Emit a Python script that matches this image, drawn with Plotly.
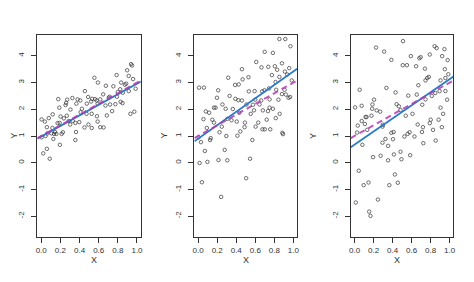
import plotly.graph_objects as go

# ---- data ----
x1 = [0.938,0.948,0.897,0.787,0.555,0.592,0.959,0.914,0.887,0.873,0.835,0.675,0.753,0.456,0.825,0.986,0.914,0.178,0.271,0.260,0.325,0.380,0.408,0.490,0.531,0.562,0.579,0.647,0.712,0.801,0.852,0.791,0.829,0.849,0.774,0.719,0.705,0.616,0.476,0.521,0.254,0.189,0.305,0.367,0.425,0.589,0.671,0.685,0.740,0.972,0.931,0.004,0.038,0.079,0.120,0.202,0.236,0.267,0.288,0.329,0.356,0.397,0.411,0.473,0.527,0.582,0.589,0.171,0.192,0.059,0.117,0.302,0.493,0.527,0.452,0.616,0.651,0.363,0.144,0.226,0.004,0.045,0.065,0.106,0.134,0.158,0.213,0.127,0.195,0.356,0.059,0.021,0.089]
y1 = [3.69,3.64,3.46,3.28,3.18,3.00,3.13,3.25,2.96,2.92,3.00,2.88,2.86,2.68,2.75,2.77,2.68,2.38,2.36,2.24,2.42,2.37,2.33,2.46,2.39,2.38,2.33,2.56,2.47,2.65,2.62,2.47,2.28,2.23,2.19,2.18,2.43,2.37,2.21,2.29,2.16,2.06,1.99,2.21,2.02,2.21,2.14,1.77,1.93,1.91,1.83,1.62,1.54,1.67,1.81,1.73,1.66,1.76,1.56,1.56,1.49,1.52,1.89,1.83,1.83,1.74,1.54,1.48,1.49,1.33,1.30,1.43,1.43,1.30,1.32,1.33,1.32,1.15,1.15,1.14,0.95,1.00,1.10,1.10,1.08,1.08,1.08,0.89,0.67,0.85,0.52,0.35,0.15]

x2 = [0.853,0.915,0.969,0.699,0.785,0.610,0.665,0.460,0.737,0.805,0.880,0.829,0.911,0.956,0.316,0.528,0.467,0.388,0.426,0.774,0.853,0.935,0.983,0.812,0.009,0.060,0.210,0.197,0.330,0.391,0.422,0.460,0.532,0.593,0.672,0.696,0.744,0.819,0.908,0.880,0.921,0.949,0.966,0.843,0.750,0.600,0.662,0.508,0.576,0.644,0.255,0.289,0.364,0.432,0.586,0.552,0.750,0.785,0.679,0.733,0.080,0.115,0.166,0.183,0.056,0.149,0.166,0.306,0.350,0.405,0.491,0.631,0.720,0.815,0.856,0.091,0.224,0.248,0.443,0.487,0.603,0.675,0.699,0.757,0.884,0.005,0.029,0.132,0.125,0.296,0.412,0.569,0.891,0.070,0.279,0.015,0.097,0.214,0.306,0.545,0.039,0.504,0.241]
y2 = [4.63,4.63,4.36,4.15,4.11,3.77,3.57,3.50,3.59,3.61,3.72,3.48,3.41,3.54,3.18,3.20,3.12,2.91,2.93,3.28,3.21,3.30,3.08,3.02,2.81,2.81,2.71,2.43,2.50,2.39,2.34,2.33,2.67,2.68,2.67,2.71,2.78,2.73,2.73,2.57,2.55,2.43,2.46,2.36,2.37,2.36,2.33,2.18,2.17,2.18,2.18,2.02,2.01,1.87,1.96,1.83,2.06,2.02,1.96,1.93,1.92,1.87,2.06,2.06,1.63,1.61,1.50,1.64,1.59,1.54,1.50,1.50,1.61,1.67,1.83,1.30,1.14,1.35,1.17,1.33,1.35,1.25,1.25,1.25,1.12,0.95,0.77,0.92,0.85,1.00,1.01,0.85,1.07,0.44,0.48,-0.01,0.03,0.10,0.09,0.15,-0.73,-0.58,-1.28]

x3 = [0.510,0.226,0.311,0.842,0.863,0.945,0.387,0.592,0.681,0.695,0.791,0.921,0.979,0.507,0.551,0.647,0.740,0.949,0.986,0.764,0.781,0.746,0.904,0.955,0.671,0.335,0.054,0.431,0.565,0.654,0.849,0.894,0.955,0.812,0.746,0.973,0.205,0.188,0.442,0.466,0.712,0.006,0.075,0.185,0.233,0.270,0.483,0.538,0.609,0.931,0.904,0.116,0.126,0.178,0.075,0.109,0.034,0.298,0.294,0.664,0.791,0.801,0.884,0.825,0.719,0.918,0.387,0.411,0.579,0.709,0.027,0.133,0.082,0.294,0.325,0.353,0.404,0.524,0.558,0.630,0.723,0.853,0.195,0.274,0.353,0.414,0.483,0.493,0.585,0.044,0.424,0.147,0.096,0.455,0.366,0.246,0.013,0.154,0.168]
y3 = [4.55,4.31,4.16,4.36,4.29,4.25,3.85,3.99,3.91,3.95,4.05,3.99,3.84,3.65,3.65,3.61,3.52,3.50,3.31,3.17,3.21,3.08,3.08,3.17,2.90,2.80,2.73,2.63,2.51,2.55,2.61,2.68,2.68,2.50,2.37,2.36,2.36,2.18,2.19,2.11,2.17,2.07,2.13,2.02,1.96,1.91,1.97,1.76,1.83,1.83,2.06,1.71,1.71,1.76,1.56,1.45,1.39,1.42,1.35,1.43,1.48,1.61,1.61,1.23,1.33,1.33,1.12,1.15,1.14,1.15,1.13,1.23,0.67,0.75,0.89,0.63,0.88,0.98,1.08,0.98,0.73,0.83,0.21,0.26,0.09,0.31,0.41,0.13,0.28,-0.30,-0.44,-0.74,-0.84,-0.75,-0.84,-1.38,-1.49,-1.83,-1.99]

fit_intercepts = [0.98, 0.90, 0.68]
fit_slopes = [1.98, 2.52, 2.45]
true_intercept = 1.0
true_slope = 2.0

x_ticks = [0.0, 0.2, 0.4, 0.6, 0.8, 1.0]
x_tick_labels = ["0.0", "0.2", "0.4", "0.6", "0.8", "1.0"]
y_ticks = [-2, -1, 0, 1, 2, 3, 4]
y_tick_labels = ["-2", "-1", "0", "1", "2", "3", "4"]

# ---- figure ----
W, H = 474, 282
xr = [-0.04, 1.04]
yr = [-2.78, 4.78]
panels = [(x1, y1), (x2, y2), (x3, y3)]
x_domains = [[35.7 / W, 140 / W], [194 / W, 297.7 / W], [351.7 / W, 455.3 / W]]
y_domain = [1 - 237 / H, 1 - 35 / H]

BLUE = "#2a7bc8"
MAGENTA = "#b33bb3"
INK = "#333333"
FONT = "Liberation Sans, Arial, sans-serif"

fig = go.Figure()
for i, (xs, ys) in enumerate(panels):
    sfx = "" if i == 0 else str(i + 1)
    xa, ya = "x" + sfx, "y" + sfx
    fig.add_trace(go.Scatter(
        x=xs, y=ys, mode="markers", xaxis=xa, yaxis=ya,
        marker=dict(symbol="circle-open", size=3.5, color=INK, line=dict(width=0.7, color=INK)),
        showlegend=False, hoverinfo="skip"))
    lx = [xr[0], xr[1]]
    fig.add_trace(go.Scatter(
        x=lx, y=[fit_intercepts[i] + fit_slopes[i] * v for v in lx], mode="lines",
        xaxis=xa, yaxis=ya, line=dict(color=BLUE, width=1.8),
        showlegend=False, hoverinfo="skip"))
    fig.add_trace(go.Scatter(
        x=lx, y=[true_intercept + true_slope * v for v in lx], mode="lines",
        xaxis=xa, yaxis=ya, line=dict(color=MAGENTA, width=2, dash="6px,4px"),
        opacity=0.85, showlegend=False, hoverinfo="skip"))

    axis_common = dict(showline=True, mirror=True, linecolor=INK, linewidth=1,
                       ticks="outside", ticklen=5, tickwidth=1, tickcolor=INK,
                       showgrid=False, zeroline=False, fixedrange=True,
                       tickfont=dict(family=FONT, size=8, color=INK))
    fig.layout["xaxis" + sfx] = dict(axis_common, domain=x_domains[i], range=xr, anchor=ya,
                                      tickmode="array", tickvals=x_ticks, ticktext=x_tick_labels)
    fig.layout["yaxis" + sfx] = dict(axis_common, domain=y_domain, range=yr, anchor=xa,
                                      tickmode="array", tickvals=y_ticks, ticktext=y_tick_labels,
                                      tickangle=-90, ticklabelstandoff=4)
    cx = (x_domains[i][0] + x_domains[i][1]) / 2
    fig.add_annotation(text="X", x=cx, y=1 - 267 / H, xref="paper", yref="paper",
                       showarrow=False, font=dict(family=FONT, size=9, color=INK))
    fig.add_annotation(text="Y", x=x_domains[i][0] - 31 / W, y=(y_domain[0] + y_domain[1]) / 2,
                       xref="paper", yref="paper", textangle=-90,
                       showarrow=False, font=dict(family=FONT, size=9, color=INK))

fig.update_layout(width=W, height=H, margin=dict(l=0, r=0, t=0, b=0),
                  plot_bgcolor="white", paper_bgcolor="white")
fig.write_html("out.html")
